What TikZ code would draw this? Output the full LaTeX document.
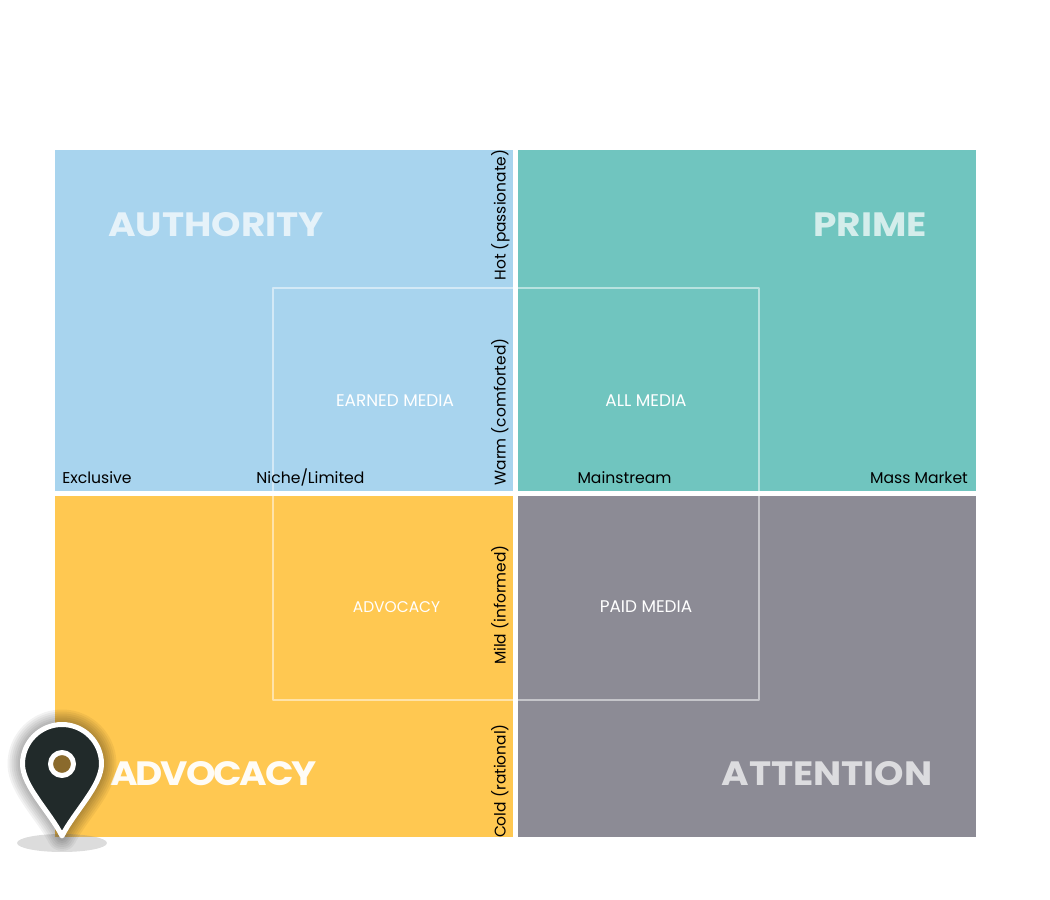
\documentclass[tikz,border=0pt]{standalone}
\usepackage{fontspec}
\setmainfont{Poppins}
\newfontfamily\headfont[FakeStretch=1.11]{Poppins}
\usetikzlibrary{positioning}
\definecolor{authblue}{HTML}{A8D4EE}
\definecolor{primeteal}{HTML}{70C5BF}
\definecolor{advyellow}{HTML}{FFC851}
\definecolor{attgray}{HTML}{8C8B95}
\definecolor{pindark}{HTML}{212A2A}
\definecolor{pinhole}{HTML}{8A6A2C}
\tikzset{
  axis/.style={font=\fontsize{4.45}{5}\selectfont,text=black,inner sep=0pt,anchor=base},
  vaxis/.style={axis,font=\fontsize{4.4}{5}\selectfont,rotate=90},
  media/.style={font=\fontsize{4.8}{5}\selectfont,text=white,inner sep=0pt,anchor=base},
  head/.style={font=\headfont\fontsize{9.6}{11}\bfseries\selectfont,text=white,text opacity=.7,inner sep=0pt},
  pinpath/.style={insert path={(.62,.64) .. controls (.50,.88) and (.225,1.14) .. (.225,1.36)
     arc (180:0:.395) .. controls (1.015,1.14) and (.74,.88) .. (.62,.64) -- cycle}}
}
\begin{document}
\begin{tikzpicture}[line join=round]
  \useasboundingbox (0,0) rectangle (10.5,9);
  % quadrants
  \fill[authblue] (.55,4.09) rectangle (5.13,7.5);
  \fill[primeteal] (5.18,4.09) rectangle (9.76,7.5);
  \fill[advyellow] (.55,.63) rectangle (5.13,4.04);
  \fill[attgray] (5.18,.63) rectangle (9.76,4.04);
  \draw[white,opacity=.5,line width=.02cm] (2.73,2) rectangle (7.59,6.12);
  % labels
  \node[head] (authority) at (2.16,6.75) {AUTHORITY};
  \node[head] (prime) at (8.7,6.75) {PRIME};
  \node[head,text opacity=.95,font=\headfont\fontsize{9.6}{11}\bfseries\addfontfeature{LetterSpace=-6.5}\selectfont] (advocacy) at (2.135,1.26) {ADVOCACY};
  \node[head] (attention) at (8.27,1.26) {ATTENTION};
  \node[media] (earned) at (3.95,4.93) {EARNED MEDIA};
  \node[media] (all) at (6.46,4.93) {ALL MEDIA};
  \node[media,font=\fontsize{4.4}{5}\selectfont] (adv) at (3.965,2.87) {ADVOCACY};
  \node[media] (paid) at (6.46,2.87) {PAID MEDIA};
  \node[axis] (excl) at (.97,4.16) {Exclusive};
  \node[axis] (niche) at (3.105,4.16) {Niche/Limited};
  \node[axis] (main) at (6.245,4.16) {Mainstream};
  \node[axis] (mass) at (9.19,4.16) {Mass Market};
  \node[vaxis] (hot) at (5.055,6.85) {Hot (passionate)};
  \node[vaxis] (warm) at (5.055,4.88) {Warm (comforted)};
  \node[vaxis] (mild) at (5.055,2.95) {Mild (informed)};
  \node[vaxis] (cold) at (5.055,1.19) {Cold (rational)};
  % pin shadow
  \fill[black!45,opacity=.3] (.62,.57) ellipse (.45 and .09);
  \foreach \w in {.30,.26,.22,.18,.14,.10,.06}
    \draw[black,opacity=.05,line width=\w cm,pinpath];
  \filldraw[fill=pindark,draw=white,line width=.05cm,pinpath];
  \filldraw[fill=pinhole,draw=white,line width=.05cm] (.62,1.36) circle (.115);
\end{tikzpicture}
\end{document}
